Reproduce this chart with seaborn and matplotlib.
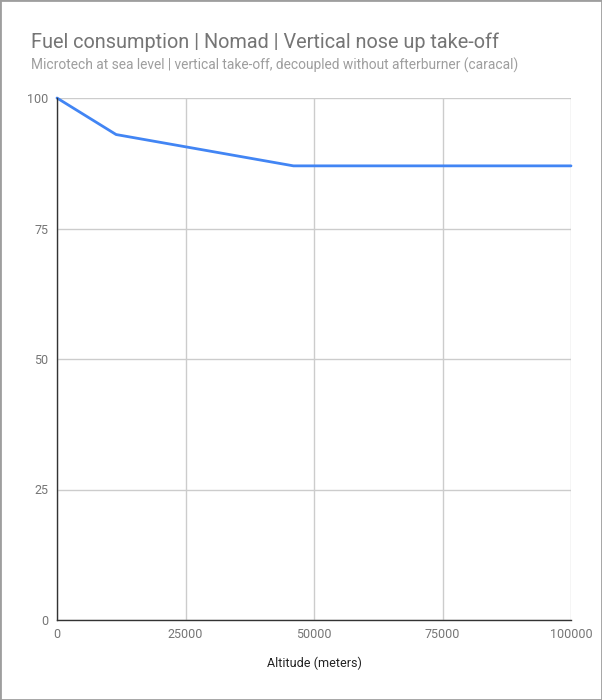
import matplotlib
matplotlib.use("Agg")
import matplotlib.pyplot as plt
import seaborn as sns
import pandas as pd
from matplotlib.patches import Rectangle

altitude = [0, 11500, 46000, 100000]
consumption = [100, 93, 87, 87]
x_ticks = [0, 25000, 50000, 75000, 100000]
y_ticks = [0, 25, 50, 75, 100]

title = "Fuel consumption | Nomad | Vertical nose up take-off"
subtitle = "Microtech at sea level | vertical take-off, decoupled without afterburner (caracal)"
x_label = "Altitude (meters)"

sns.set_theme(style="white")
plt.rcParams['font.family'] = ['Roboto', 'DejaVu Sans']

df = pd.DataFrame({"altitude": altitude, "consumption": consumption})

W, H = 602, 700
fig = plt.figure(figsize=(W / 100, H / 100), dpi=100)
ax = fig.add_axes([57 / W, 1 - 620 / H, (571 - 57) / W, (620 - 98) / H])

sns.lineplot(data=df, x="altitude", y="consumption", ax=ax, color="#4285f4",
             linewidth=2, clip_on=False)

ax.set_xlim(0, 100000)
ax.set_ylim(0, 100)
ax.set_xticks(x_ticks)
ax.set_yticks(y_ticks)
ax.set_xticklabels([str(v) for v in x_ticks])
ax.set_yticklabels([str(v) for v in y_ticks])
ax.grid(True, color="#cccccc", linewidth=1)
ax.set_axisbelow(True)
for s in ["top", "right"]:
    ax.spines[s].set_visible(False)
ax.spines["left"].set_color("#333333")
ax.spines["bottom"].set_color("#333333")
ax.spines["left"].set_linewidth(1)
ax.spines["bottom"].set_linewidth(1)
ax.tick_params(axis="both", length=0, labelsize=9, colors="#757575")
ax.tick_params(axis="x", pad=6)
ax.tick_params(axis="y", pad=6)
ax.set_xlabel(x_label, fontsize=9, color="#222222", labelpad=11)
ax.set_ylabel("")

fig.text(31 / W, 1 - 48.5 / H, title, fontsize=14.3, color="#757575", va="baseline", ha="left")
fig.text(31 / W, 1 - 70 / H, subtitle, fontsize=9.9, color="#9e9e9e", va="baseline", ha="left")

fig.patches.append(Rectangle((0, 0), 1, 1, transform=fig.transFigure, fill=False,
                             edgecolor="#9e9e9e", linewidth=2))

fig.savefig("out.png", dpi=100)
